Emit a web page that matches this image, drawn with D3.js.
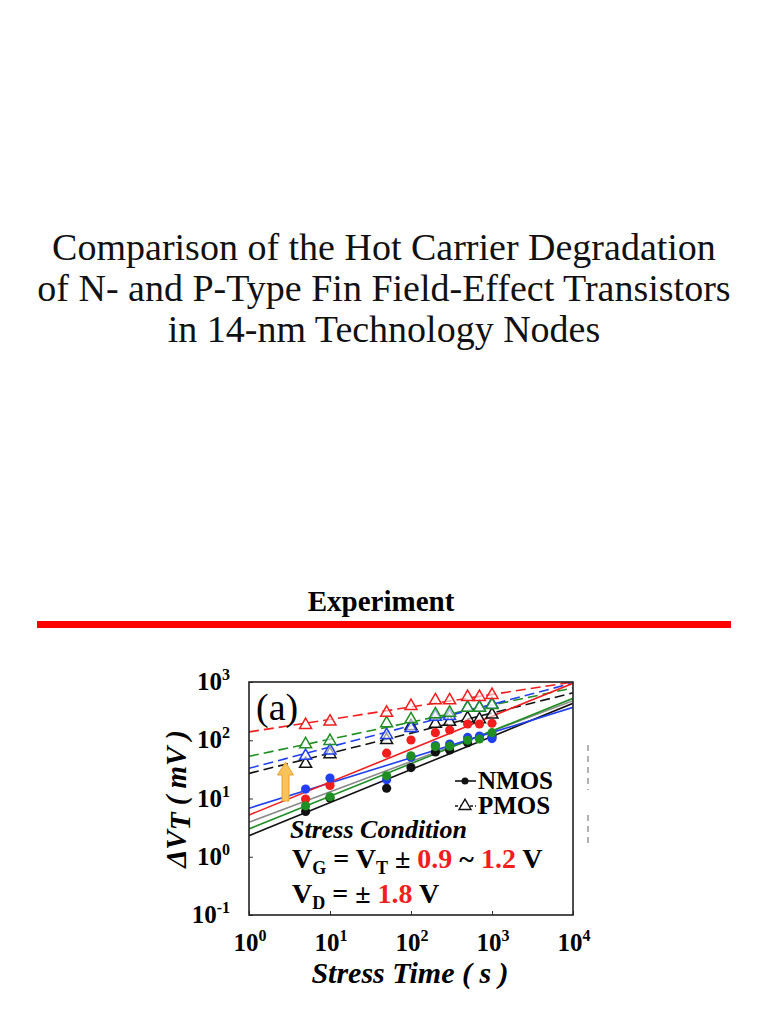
<!DOCTYPE html>
<html>
<head>
<meta charset="utf-8">
<script src="https://cdn.jsdelivr.net/npm/d3@7"></script>
<style>
  body { margin: 0; background: #fff; }
  svg { display: block; }
  text { font-family: "Liberation Serif", "Times New Roman", serif; }
</style>
</head>
<body>
<svg id="chart" width="768" height="1024"></svg>
<script>
// stress times (s)
var times = [5, 10, 50, 100, 200, 300, 500, 700, 1000];

// NMOS (filled circles), delta VT in mV
var nmosRed   = [9.8, 16.8, 60, 101, 135, 150, 190, 190, 196];
var nmosBlue  = [14.5, 22.4, 21, 51, 81, 86, 112, 118, 107];
var nmosGreen = [7.5, 10.7, 24.5, 54, 78, 79, 100, 105, 135];
var nmosBlack = [6.0, 10.2, 15, 34, 63, 68, 91, 109, 115];

// PMOS (open triangles)
var pmosRed   = [190, 217, 309, 403, 503, 503, 575, 575, 622];
var pmosGreen = [89, 101, 204, 238, 290, 309, 376, 376, 417];
var pmosBlue  = [56, 69, 128, 168, 262, 270, 376, 380, 432];
var pmosBlack = [41, 60, 105, 183, 200, 215, 248, 238, 286];

// power-law fit lines, value at t = 1 s and t = 1e4 s
var fitTimes = [1, 10000];
var fitNRed   = [5.2, 950];
var fitNBlue  = [6.8, 368];
var fitNGray  = [3.9, 478];
var fitNGreen = [3.0, 525];
var fitNBlack = [2.3, 430];
var fitPRed   = [139, 1000];
var fitPBlue  = [33, 960];
var fitPGreen = [53, 790];
var fitPBlack = [27, 650];

var xTicks = [0, 1, 2, 3, 4];
var yTicks = [-1, 0, 1, 2, 3];

var titleLines = ["Comparison of the Hot Carrier Degradation",
                  "of N- and P-Type Fin Field-Effect Transistors",
                  "in 14-nm Technology Nodes"];

var colors = { red: "#f21d1d", blue: "#2040f0", green: "#1f8f24", black: "#111111", gray: "#8a8a8a" };

var svg = d3.select("#chart");

// page title
svg.append("g").selectAll("text")
    .data(titleLines)
    .enter().append("text")
    .attr("x", 384)
    .attr("y", (d, i) => 260 + i * 41)
    .attr("text-anchor", "middle")
    .style("font-size", "38px")
    .style("fill", "#111")
    .text(d => d);

svg.append("text")
    .attr("x", 381)
    .attr("y", 611)
    .attr("text-anchor", "middle")
    .style("font-size", "29px")
    .style("font-weight", "bold")
    .text("Experiment");

svg.append("rect")
    .attr("x", 37).attr("y", 621)
    .attr("width", 694).attr("height", 7)
    .style("fill", "#ff0000");

// plot area
var pLeft = 249, pRight = 573, pTop = 682, pBottom = 915;

var xScale = d3.scaleLog().domain([1, 10000]).range([pLeft, pRight]);
var yScale = d3.scaleLog().domain([0.1, 1000]).range([pBottom, pTop]);

// axis ticks (inward)
var g = svg.append("g");
g.append("g")
    .attr("transform", `translate(0,${pBottom})`)
    .call(d3.axisBottom(xScale).tickValues(xTicks.map(p => Math.pow(10, p))).tickSize(-4).tickFormat(""))
    .call(a => a.select(".domain").remove())
    .selectAll("line").style("stroke", "#333");
g.append("g")
    .attr("transform", `translate(${pLeft},0)`)
    .call(d3.axisLeft(yScale).tickValues(yTicks.map(p => Math.pow(10, p))).tickSize(-4).tickFormat(""))
    .call(a => a.select(".domain").remove())
    .selectAll("line").style("stroke", "#333");

// tick labels 10^n
var xLab = svg.append("g").selectAll("text")
    .data(xTicks)
    .enter().append("text")
    .attr("x", d => xScale(Math.pow(10, d)) + 1)
    .attr("y", 951)
    .attr("text-anchor", "middle")
    .style("font-size", "25px")
    .style("font-weight", "bold");
xLab.append("tspan").text("10");
xLab.append("tspan").attr("dy", -10).style("font-size", "16px").text(d => d);

var yLab = svg.append("g").selectAll("text")
    .data(yTicks)
    .enter().append("text")
    .attr("x", 230)
    .attr("y", d => yScale(Math.pow(10, d)) + 8)
    .attr("text-anchor", "end")
    .style("font-size", "25px")
    .style("font-weight", "bold");
yLab.append("tspan").text("10");
yLab.append("tspan").attr("dy", -10).style("font-size", "16px").text(d => d);

// clip for the fit lines
svg.append("clipPath").attr("id", "plotclip")
    .append("rect").attr("x", pLeft).attr("y", pTop)
    .attr("width", pRight - pLeft).attr("height", pBottom - pTop);

var line = d3.line()
    .x(d => xScale(d[0]))
    .y(d => yScale(d[1]));

var fits = [
    { v: fitPRed, c: colors.red, dash: true },
    { v: fitPGreen, c: colors.green, dash: true },
    { v: fitPBlue, c: colors.blue, dash: true },
    { v: fitPBlack, c: colors.black, dash: true },
    { v: fitNGray, c: colors.gray, dash: false },
    { v: fitNBlack, c: colors.black, dash: false },
    { v: fitNGreen, c: colors.green, dash: false },
    { v: fitNBlue, c: colors.blue, dash: false },
    { v: fitNRed, c: colors.red, dash: false }
];

svg.append("g").attr("clip-path", "url(#plotclip)")
    .selectAll("path")
    .data(fits)
    .enter().append("path")
    .attr("d", d => line(fitTimes.map((t, i) => [t, d.v[i]])))
    .style("fill", "none")
    .style("stroke", d => d.c)
    .style("stroke-width", 1.6)
    .style("stroke-dasharray", d => d.dash ? "10,5" : null);

// PMOS triangles
var tri = d3.symbol().type(d3.symbolTriangle).size(62);
var pmos = [
    { v: pmosBlack, c: colors.black },
    { v: pmosBlue, c: colors.blue },
    { v: pmosGreen, c: colors.green },
    { v: pmosRed, c: colors.red }
];
pmos.forEach(function(s) {
    svg.append("g").selectAll("path")
        .data(s.v)
        .enter().append("path")
        .attr("d", tri)
        .attr("transform", (d, i) => `translate(${xScale(times[i])},${yScale(d) + 1})`)
        .style("fill", "#fff")
        .style("fill-opacity", 0.6)
        .style("stroke", s.c)
        .style("stroke-width", 1.5);
});

// NMOS circles
var nmos = [
    { v: nmosBlack, c: colors.black },
    { v: nmosRed, c: colors.red },
    { v: nmosBlue, c: colors.blue },
    { v: nmosGreen, c: colors.green }
];
nmos.forEach(function(s) {
    svg.append("g").selectAll("circle")
        .data(s.v)
        .enter().append("circle")
        .attr("cx", (d, i) => xScale(times[i]))
        .attr("cy", d => yScale(d))
        .attr("r", 4.6)
        .style("fill", s.c);
});

// frame
svg.append("rect")
    .attr("x", pLeft).attr("y", pTop)
    .attr("width", pRight - pLeft).attr("height", pBottom - pTop)
    .style("fill", "none")
    .style("stroke", "#222")
    .style("stroke-width", 1.6);

// orange arrow
var ax = 285.5;
svg.append("path")
    .attr("d", `M${ax - 3.5},801 L${ax - 3.5},775 L${ax - 8},775 L${ax},762 L${ax + 8},775 L${ax + 3.5},775 L${ax + 3.5},801 Z`)
    .style("fill", "#f7c35a")
    .style("stroke", "#e8a030")
    .style("stroke-width", 1);

// "(a)"
svg.append("text")
    .attr("x", 256).attr("y", 720)
    .style("font-size", "38px")
    .text("(a)");

// legend
var legend = svg.append("g");
legend.append("line").attr("x1", 455).attr("x2", 476).attr("y1", 781).attr("y2", 781)
    .style("stroke", "#111").style("stroke-width", 1.6);
legend.append("circle").attr("cx", 465).attr("cy", 781).attr("r", 3.5).style("fill", "#111");
legend.append("text").attr("x", 478).attr("y", 789)
    .style("font-size", "25px").style("font-weight", "bold").text("NMOS");
legend.append("line").attr("x1", 455).attr("x2", 476).attr("y1", 806).attr("y2", 806)
    .style("stroke", "#111").style("stroke-width", 1.4).style("stroke-dasharray", "3,2");
legend.append("path").attr("d", tri).attr("transform", "translate(465,806)")
    .style("fill", "#fff").style("stroke", "#111").style("stroke-width", 1.4);
legend.append("text").attr("x", 478).attr("y", 814)
    .style("font-size", "25px").style("font-weight", "bold").text("PMOS");

// stress condition text
svg.append("text")
    .attr("x", 290).attr("y", 838)
    .style("font-size", "26px").style("font-weight", "bold").style("font-style", "italic")
    .text("Stress Condition");

var vg = svg.append("text")
    .attr("x", 292).attr("y", 868)
    .style("font-size", "28px").style("font-weight", "bold");
vg.append("tspan").text("V");
vg.append("tspan").attr("dy", 6).style("font-size", "18px").text("G");
vg.append("tspan").attr("dy", -6).text(" = V");
vg.append("tspan").attr("dy", 6).style("font-size", "18px").text("T");
vg.append("tspan").attr("dy", -6).text(" ± ");
vg.append("tspan").style("fill", colors.red).text("0.9");
vg.append("tspan").text(" ~ ");
vg.append("tspan").style("fill", colors.red).text("1.2");
vg.append("tspan").text(" V");

var vd = svg.append("text")
    .attr("x", 292).attr("y", 903)
    .style("font-size", "28px").style("font-weight", "bold");
vd.append("tspan").text("V");
vd.append("tspan").attr("dy", 6).style("font-size", "18px").text("D");
vd.append("tspan").attr("dy", -6).text(" = ± ");
vd.append("tspan").style("fill", colors.red).text("1.8");
vd.append("tspan").text(" V");

// axis titles
svg.append("text")
    .attr("x", 410).attr("y", 983)
    .attr("text-anchor", "middle")
    .style("font-size", "30px").style("font-weight", "bold").style("font-style", "italic")
    .text("Stress Time ( s )");

var yt = svg.append("text")
    .attr("transform", "translate(186,799) rotate(-90)")
    .attr("text-anchor", "middle")
    .style("font-size", "29px").style("font-weight", "bold").style("font-style", "italic");
yt.append("tspan").text("ΔV");
yt.append("tspan").attr("dy", 4).text("T");
yt.append("tspan").attr("dy", -4).text(" ( mV )");

// cropped neighbour panel edge
svg.append("line")
    .attr("x1", 588).attr("x2", 588).attr("y1", 745).attr("y2", 790)
    .style("stroke", "#999").style("stroke-width", 1.5).style("stroke-dasharray", "6,5");
svg.append("line")
    .attr("x1", 588).attr("x2", 588).attr("y1", 815).attr("y2", 846)
    .style("stroke", "#999").style("stroke-width", 1.5).style("stroke-dasharray", "6,5");
</script>
</body>
</html>
